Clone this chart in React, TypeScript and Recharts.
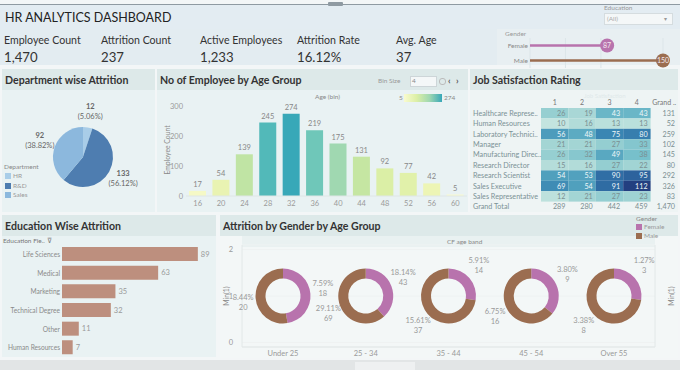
import React from 'react';
import {
  BarChart,
  Bar,
  XAxis,
  YAxis,
  Cell,
  LabelList,
  PieChart,
  Pie,
  ScatterChart,
  Scatter,
  ComposedChart,
  Sector,
  CartesianGrid,
} from 'recharts';

const FONT = 'Lato, "Noto Sans", sans-serif';

// ---- data ----
const kpiLabels = ['Employee Count', 'Attrition Count', 'Active Employees', 'Attrition Rate', 'Avg. Age'];
const kpiValues = ['1,470', '237', '1,233', '16.12%', '37'];

const genders = ['Female', 'Male'];
const genderCounts = [87, 150];

const departments = ['HR', 'R&D', 'Sales'];
const deptAttrition = [12, 133, 92];

const ageBins = ['16', '20', '24', '28', '32', '36', '40', '44', '48', '52', '56', '60'];
const ageCounts = [17, 54, 139, 245, 274, 219, 175, 131, 92, 77, 42, 5];

const jobRoles = [
  'Healthcare Represe..',
  'Human Resources',
  'Laboratory Technici..',
  'Manager',
  'Manufacturing Direc..',
  'Research Director',
  'Research Scientist',
  'Sales Executive',
  'Sales Representative',
];
const satisfactionCols = ['1', '2', '3', '4', 'Grand ..'];
const sat1 = [26, 10, 56, 21, 26, 15, 54, 69, 12];
const sat2 = [19, 16, 48, 21, 32, 16, 53, 54, 21];
const sat3 = [43, 13, 75, 27, 49, 27, 90, 91, 27];
const sat4 = [43, 13, 80, 33, 38, 22, 95, 112, 23];

const eduFields = ['Life Sciences', 'Medical', 'Marketing', 'Technical Degree', 'Other', 'Human Resources'];
const eduAttrition = [89, 63, 35, 32, 11, 7];

const ageBands = ['Under 25', '25 - 34', '35 - 44', '45 - 54', 'Over 55'];
const femaleByBand = [18, 43, 14, 9, 3];
const maleByBand = [20, 69, 37, 16, 8];
const minOne = 1;

const totalAttrition = 237;

// ---- colours ----
const hexToRgb = (h: string) => [1, 3, 5].map((i) => parseInt(h.slice(i, i + 2), 16));
function ramp(stops: [number, string][], v: number) {
  if (v <= stops[0][0]) return stops[0][1];
  for (let i = 1; i < stops.length; i++) {
    if (v <= stops[i][0]) {
      const [a, ca] = stops[i - 1];
      const [b, cb] = stops[i];
      const t = (v - a) / (b - a);
      const x = hexToRgb(ca);
      const y = hexToRgb(cb);
      return `rgb(${x.map((c, k) => Math.round(c + (y[k] - c) * t)).join(',')})`;
    }
  }
  return stops[stops.length - 1][1];
}
const ageStops: [number, string][] = [
  [5, '#f9fbcf'], [40, '#eef5b6'], [90, '#dcefa6'], [135, '#c3e5a2'],
  [175, '#a0d8b1'], [220, '#6ec7b9'], [245, '#52b9b9'], [274, '#38a8b8'],
];
const heatStops: [number, string][] = [
  [10, '#c3e4df'], [20, '#a6d6d5'], [30, '#8ccacf'], [40, '#72bdca'], [50, '#56a6c0'],
  [60, '#4796b9'], [75, '#3a86b3'], [90, '#306ea5'], [112, '#233f80'],
];
const deptColors = ['#a9cde8', '#4e7db0', '#8cb8dd'];
const FEMALE = '#b873ad';
const MALE = '#9b6d50';

const PANEL_HEAD = '#dde9e9';
const PANEL_BODY = '#e9f2f3';
const AXIS_TXT = '#9a9a9a';

// ---- derived tables ----
const genderData = genders.map((g, i) => ({ name: g, value: genderCounts[i] }));
const deptData = departments.map((d, i) => ({ name: d, value: deptAttrition[i] }));
const ageData = ageBins.map((b, i) => ({ bin: b, count: ageCounts[i] }));
const eduData = eduFields.map((f, i) => ({ name: f, value: eduAttrition[i] }));
const bandData = ageBands.map((b, i) => ({ band: b, y: minOne, female: femaleByBand[i], male: maleByBand[i] }));

const satCols = [sat1, sat2, sat3, sat4];
const rowLabels = [...jobRoles, 'Grand Total'];
const heatData: { row: number; col: number; v: number; kind: string }[] = [];
jobRoles.forEach((_, r) => {
  satCols.forEach((c, ci) => heatData.push({ row: r, col: ci + 1, v: c[r], kind: 'cell' }));
  heatData.push({ row: r, col: 5, v: satCols.reduce((s, c) => s + c[r], 0), kind: 'total' });
});
satCols.forEach((c, ci) => heatData.push({ row: 9, col: ci + 1, v: c.reduce((s, x) => s + x, 0), kind: 'total' }));
heatData.push({ row: 9, col: 5, v: satCols.reduce((s, c) => s + c.reduce((a, x) => a + x, 0), 0), kind: 'total' });

const fmt = (n: number) => n.toLocaleString('en-US');
const pct = (n: number) => ((n / totalAttrition) * 100).toFixed(2) + '%';

// ---- small pieces ----
const txt = (style: React.CSSProperties): React.CSSProperties => ({
  position: 'absolute',
  whiteSpace: 'nowrap',
  lineHeight: 1,
  ...style,
});

const Panel = ({ x, y, w, h, title }: { x: number; y: number; w: number; h: number; title: string }) => (
  <>
    <div style={{ position: 'absolute', left: x, top: y, width: w, height: h, background: PANEL_BODY }} />
    <div style={{ position: 'absolute', left: x, top: y, width: w, height: 21, background: PANEL_HEAD }} />
    <div style={txt({ left: x + 3, top: y + 5.5, fontSize: 10.6, fontWeight: 700, color: '#333' })}>{title}</div>
  </>
);

const Lollipop = (props: any) => {
  const { x, y, width, height, payload, index } = props;
  const cy = y + height / 2;
  const col = index === 0 ? FEMALE : MALE;
  return (
    <g>
      <line x1={x} x2={x + width} y1={cy} y2={cy} stroke={col} strokeWidth={2.5} />
      <circle cx={x + width} cy={cy} r={7} fill={col} />
      <text x={x + width} y={cy + 2.5} textAnchor="middle" fontSize={7} fill="#f4e8f0">
        {payload.value}
      </text>
    </g>
  );
};

const CELL_W = 27.4;
const CELL_H = 10.4;
const HeatCell = (props: any) => {
  const { cx, cy, payload } = props;
  const isCell = payload.kind === 'cell';
  const dark = isCell && payload.v >= 43;
  return (
    <g>
      {isCell && (
        <rect x={cx - CELL_W / 2} y={cy - CELL_H / 2} width={CELL_W} height={CELL_H} fill={ramp(heatStops, payload.v)} />
      )}
      <text x={cx + CELL_W / 2 - 3} y={cy + 2.6} textAnchor="end" fontSize={7.2} fill={dark ? '#eef6f8' : '#7b8f92'}>
        {fmt(payload.v)}
      </text>
    </g>
  );
};

const RoleTick = (props: any) => {
  const { x, y, payload } = props;
  return (
    <text x={x - 66} y={y + 2.6} textAnchor="start" fontSize={7.2} fill="#7b9296">
      {rowLabels[payload.value]}
    </text>
  );
};

const EduTick = (props: any) => {
  const { x, y, payload } = props;
  return (
    <text x={x} y={y + 2.5} textAnchor="end" fontSize={6.6} fill="#8a8a8a">
      {payload.value}
    </text>
  );
};

const RADIAN = Math.PI / 180;
const Donut = (props: any) => {
  const { cx, cy, payload } = props;
  const f = payload.female / (payload.female + payload.male);
  const split = 90 - 360 * f;
  const rL = 40;
  const fm = (90 + split) / 2;
  const mm = (split - 270) / 2;
  const lab = (ang: number, n: number, k: string, shift: number) => {
    const lx = cx + rL * Math.cos(ang * RADIAN);
    const ly = cy - rL * Math.sin(ang * RADIAN) + shift;
    return (
      <text key={k} x={lx} y={ly - 2} textAnchor="middle" fontSize={7.5} fill="#999">
        <tspan x={lx} dy={0}>{pct(n)}</tspan>
        <tspan x={lx} dy={10}>{n}</tspan>
      </text>
    );
  };
  return (
    <g>
      <Sector cx={cx} cy={cy} innerRadius={17.5} outerRadius={27.5} startAngle={90} endAngle={split} fill={FEMALE} />
      <Sector cx={cx} cy={cy} innerRadius={17.5} outerRadius={27.5} startAngle={split} endAngle={-270} fill={MALE} />
      {lab(fm, payload.female, 'f', -5)}
      {lab(mm, payload.male, 'm', 3)}
    </g>
  );
};

const deptLabel = (props: any) => {
  const { cx, cy, midAngle, outerRadius, value } = props;
  const r = outerRadius + 16;
  const x = cx + r * Math.cos(-midAngle * RADIAN);
  const y = cy + r * Math.sin(-midAngle * RADIAN);
  return (
    <text x={x} y={y - 3} textAnchor="middle" fontSize={7.5} fill="#666">
      <tspan x={x} dy={0} fontWeight={700}>{value}</tspan>
      <tspan x={x} dy={10}>({pct(value)})</tspan>
    </text>
  );
};

const vLabel = (left: number, top: number, s: string) => (
  <div style={txt({ left, top, fontSize: 6.8, color: '#888', transform: 'translate(-50%, -50%) rotate(-90deg)' })}>{s}</div>
);

export default function App() {
  return (
    <div
      style={{
        position: 'fixed',
        left: 0,
        top: 0,
        width: 680,
        height: 370,
        overflow: 'hidden',
        background: '#f3f6f7',
        fontFamily: FONT,
      }}
    >
      {/* title bar */}
      <div style={{ position: 'absolute', left: 0, top: 4, width: 680, height: 24, background: '#e3ecf2', borderTop: '1px solid #8f9aa2' }} />
      <div style={{ position: 'absolute', left: 328, top: 2, width: 15, height: 4, background: '#8f9aa2', borderRadius: 1 }} />
      <div style={txt({ left: 5, top: 10, fontSize: 14.2, color: '#222', transform: 'scaleX(0.88)', transformOrigin: 'left center' })}>
        HR ANALYTICS DASHBOARD
      </div>
      <div style={txt({ left: 604, top: 5, fontSize: 6.5, color: '#999' })}>Education</div>
      <div style={{ position: 'absolute', left: 604, top: 13, width: 67, height: 10, background: '#f4f7f8', border: '1px solid #d5dcdf' }} />
      <div style={txt({ left: 607, top: 16, fontSize: 6.5, color: '#aaa' })}>(All)</div>
      <div style={txt({ left: 664, top: 16, fontSize: 6, color: '#999' })}>▾</div>

      {/* KPI strip */}
      <div style={{ position: 'absolute', left: 0, top: 29, width: 680, height: 36, background: '#e3ecf1' }} />
      <div style={{ position: 'absolute', left: 497, top: 29, width: 183, height: 36, background: '#e8eff2' }} />
      {kpiLabels.map((l, i) => (
        <React.Fragment key={l}>
          <div style={txt({ left: [4, 101, 200, 297, 396][i], top: 35, fontSize: 10.6, color: '#333' })}>{l}</div>
          <div style={txt({ left: [4, 101, 200, 297, 396][i], top: 51, fontSize: 13.2, color: '#333' })}>{kpiValues[i]}</div>
        </React.Fragment>
      ))}
      <div style={txt({ left: 505, top: 31, fontSize: 6.5, color: '#999' })}>Gender</div>
      <BarChart
        width={181}
        height={30}
        data={genderData}
        layout="vertical"
        margin={{ top: 0, right: 15, bottom: 0, left: 0 }}
        style={{ position: 'absolute', left: 497, top: 38 }}
      >
        <CartesianGrid horizontal={false} stroke="#dce5e9" />
        <XAxis type="number" domain={[0, 150]} hide />
        <YAxis
          type="category"
          dataKey="name"
          width={33}
          tickLine={false}
          axisLine={false}
          tickSize={0}
          tickMargin={2}
          tick={{ fontSize: 6.5, fill: '#888' }}
        />
        <Bar dataKey="value" isAnimationActive={false} shape={Lollipop} />
      </BarChart>

      {/* Department wise Attrition */}
      <Panel x={2} y={69} w={153} h={143} title="Department wise Attrition" />
      <PieChart width={153} height={120} style={{ position: 'absolute', left: 2, top: 90 }}>
        <Pie
          data={deptData}
          dataKey="value"
          cx={76}
          cy={62}
          outerRadius={30}
          startAngle={90}
          endAngle={-270}
          stroke="none"
          label={deptLabel}
          labelLine={false}
          isAnimationActive={false}
        >
          {deptData.map((d, i) => (
            <Cell key={d.name} fill={deptColors[i]} />
          ))}
        </Pie>
      </PieChart>
      <div style={txt({ left: 4, top: 164, fontSize: 6.5, color: '#888' })}>Department</div>
      {departments.map((d, i) => (
        <React.Fragment key={d}>
          <div style={{ position: 'absolute', left: 5, top: 173 + i * 9.5, width: 6, height: 6, background: deptColors[i] }} />
          <div style={txt({ left: 13, top: 173 + i * 9.5, fontSize: 6.5, color: '#999' })}>{d}</div>
        </React.Fragment>
      ))}

      {/* No of Employee by Age Group */}
      <Panel x={157} y={69} w={311} h={143} title="No of Employee by Age Group" />
      <div style={txt({ left: 378, top: 78, fontSize: 6.5, color: '#999' })}>Bin Size</div>
      <div style={{ position: 'absolute', left: 410, top: 76, width: 25, height: 9, background: '#f4f7f8', border: '1px solid #cdd5d8' }} />
      <div style={txt({ left: 412, top: 78, fontSize: 6.5, color: '#888' })}>4</div>
      <div style={{ position: 'absolute', left: 439, top: 78, width: 5, height: 5, borderRadius: 3, border: '1px solid #bbb' }} />
      <div style={txt({ left: 448, top: 76, fontSize: 9, fontWeight: 700, color: '#555' })}>‹</div>
      <div style={txt({ left: 456, top: 76, fontSize: 9, fontWeight: 700, color: '#555' })}>›</div>
      <div style={txt({ left: 315, top: 94, fontSize: 6.5, color: '#888' })}>Age (bin)</div>
      <div style={txt({ left: 399, top: 95, fontSize: 6.5, color: '#888' })}>5</div>
      <div
        style={{
          position: 'absolute',
          left: 404,
          top: 94,
          width: 38,
          height: 8,
          background: 'linear-gradient(to right, #f9fbcf, #dcefa6, #a0d8b1, #38a8b8)',
        }}
      />
      <div style={txt({ left: 444, top: 95, fontSize: 6.5, color: '#888' })}>274</div>
      {vLabel(167, 150, 'Employee Count')}
      <BarChart
        width={311}
        height={118}
        data={ageData}
        margin={{ top: 8, right: 1, bottom: 0, left: 0 }}
        style={{ position: 'absolute', left: 157, top: 92 }}
      >
        <XAxis
          dataKey="bin"
          height={14}
          tickLine={false}
          axisLine={{ stroke: '#dfe6e6' }}
          tickSize={0}
          tickMargin={5}
          tick={{ fontSize: 7.5, fill: AXIS_TXT }}
        />
        <YAxis
          width={29}
          domain={[0, 320]}
          ticks={[0, 100, 200, 300]}
          tickLine={false}
          axisLine={false}
          tickSize={0}
          tickMargin={3}
          tick={{ fontSize: 7.5, fill: AXIS_TXT }}
        />
        <Bar dataKey="count" barSize={17} isAnimationActive={false}>
          {ageData.map((d) => (
            <Cell key={d.bin} fill={ramp(ageStops, d.count)} />
          ))}
          <LabelList dataKey="count" position="top" offset={4} style={{ fontSize: 7.5, fill: '#888' }} />
        </Bar>
      </BarChart>

      {/* Job Satisfaction Rating */}
      <Panel x={470} y={69} w={208} h={143} title="Job Satisfaction Rating" />
      <div style={{ position: 'absolute', left: 470, top: 90, width: 208, height: 122, background: '#eef4f4' }} />
      <div style={txt({ left: 584, top: 93, fontSize: 6, color: '#dfe9ea' })}>Job Satisfaction</div>
      <ScatterChart
        width={208}
        height={117}
        margin={{ top: 0, right: 0, bottom: 0, left: 0 }}
        style={{ position: 'absolute', left: 470, top: 95 }}
      >
        <XAxis
          type="number"
          dataKey="col"
          orientation="top"
          domain={[0.5, 5.5]}
          ticks={[1, 2, 3, 4, 5]}
          interval={0}
          tickFormatter={(v: number) => satisfactionCols[v - 1]}
          height={13}
          tickLine={false}
          axisLine={false}
          tickSize={0}
          tickMargin={3}
          tick={{ fontSize: 7, fill: '#777' }}
        />
        <YAxis
          type="number"
          dataKey="row"
          domain={[-0.5, 9.5]}
          ticks={[0, 1, 2, 3, 4, 5, 6, 7, 8, 9]}
          interval={0}
          reversed
          width={71}
          tickLine={false}
          axisLine={false}
          tickSize={0}
          tick={RoleTick}
        />
        <Scatter data={heatData} isAnimationActive={false} shape={HeatCell} />
      </ScatterChart>

      {/* Education Wise Attrition */}
      <Panel x={2} y={215} w={214} h={142} title="Education Wise Attrition" />
      <div style={txt({ left: 3, top: 238, fontSize: 6.5, color: '#777' })}>Education Fie.. ⊽</div>
      <BarChart
        width={214}
        height={112}
        data={eduData}
        layout="vertical"
        margin={{ top: 0, right: 9, bottom: 0, left: 0 }}
        style={{ position: 'absolute', left: 2, top: 245 }}
      >
        <XAxis type="number" domain={[0, 95]} hide />
        <YAxis
          type="category"
          dataKey="name"
          width={60}
          interval={0}
          tickLine={false}
          axisLine={false}
          tickSize={0}
          tickMargin={2}
          tick={EduTick}
        />
        <Bar dataKey="value" barSize={14} fill="#bd8f7e" isAnimationActive={false}>
          <LabelList dataKey="value" position="right" offset={3} style={{ fontSize: 7.5, fill: '#999' }} />
        </Bar>
      </BarChart>

      {/* Attrition by Gender by Age Group */}
      <Panel x={220} y={215} w={458} h={143} title="Attrition by Gender by Age Group" />
      <div style={{ position: 'absolute', left: 220, top: 236, width: 458, height: 122, background: '#f3f7f7' }} />
      <div style={{ position: 'absolute', left: 242, top: 236, width: 413, height: 11, background: '#e9f1f1' }} />
      <div style={txt({ left: 447, top: 239, fontSize: 6.5, color: '#888' })}>CF age band</div>
      <div style={txt({ left: 636, top: 216, fontSize: 6.5, color: '#888' })}>Gender</div>
      {[FEMALE, MALE].map((c, i) => (
        <React.Fragment key={c}>
          <div style={{ position: 'absolute', left: 636, top: 224 + i * 9, width: 6, height: 6, background: c }} />
          <div style={txt({ left: 644, top: 224 + i * 9, fontSize: 6.5, color: '#999' })}>{genders[i]}</div>
        </React.Fragment>
      ))}
      {vLabel(226, 296, 'Min(1)')}
      {vLabel(671, 296, 'Min(1)')}
      <ComposedChart
        width={458}
        height={119}
        data={bandData}
        margin={{ top: 5, right: 0, bottom: 0, left: 0 }}
        style={{ position: 'absolute', left: 220, top: 240 }}
      >
        <CartesianGrid vertical={false} yAxisId="l" stroke="#eef2f2" />
        <XAxis
          dataKey="band"
          height={12}
          padding={{ left: 41, right: 41 }}
          interval={0}
          tickLine={false}
          axisLine={{ stroke: '#dfe5e5' }}
          tickSize={0}
          tickMargin={4}
          tick={{ fontSize: 7.5, fill: AXIS_TXT }}
        />
        <YAxis
          yAxisId="l"
          width={22}
          domain={[-0.1, 2.1]}
          ticks={[0, 1, 2]}
          tickLine={false}
          axisLine={{ stroke: '#e2e8e8' }}
          tickSize={0}
          tickMargin={9}
          tick={{ fontSize: 7.5, fill: AXIS_TXT }}
        />
        <YAxis
          yAxisId="r"
          orientation="right"
          width={23}
          domain={[-0.1, 2.1]}
          ticks={[0, 1, 2]}
          tickLine={false}
          axisLine={{ stroke: '#e2e8e8' }}
          tickSize={0}
          tickMargin={4}
          tick={{ fontSize: 7.5, fill: AXIS_TXT }}
        />
        <Scatter yAxisId="l" dataKey="y" isAnimationActive={false} shape={Donut} />
      </ComposedChart>

      {/* bottom strip */}
      <div style={{ position: 'absolute', left: 0, top: 360, width: 680, height: 10, background: '#e2e5e6' }} />
      <div style={{ position: 'absolute', left: 355, top: 362, width: 60, height: 8, background: '#eef0f1' }} />
    </div>
  );
}
